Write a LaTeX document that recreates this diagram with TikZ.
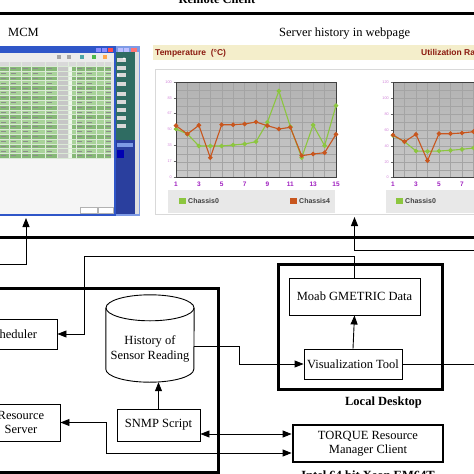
\documentclass[tikz,border=0pt]{standalone}
\usepackage{fontspec}
\setmainfont{Liberation Serif}
\newfontfamily\chartfont{Liberation Sans}
\usetikzlibrary{arrows.meta,calc}
\newcommand\mainsz{\fontsize{12.5}{14.5}\selectfont}
\definecolor{winblue}{HTML}{2F56C8}
\definecolor{winlight}{HTML}{7E9BE6}
\definecolor{rowA}{HTML}{86B877}
\definecolor{rowB}{HTML}{A9D39A}
\definecolor{stripteal}{HTML}{2F6C62}
\definecolor{stripblue}{HTML}{2A3F9E}
\definecolor{headband}{HTML}{F4EECB}
\definecolor{titlered}{HTML}{8B1A10}
\definecolor{gridgray}{HTML}{A4A4A4}
\definecolor{axpurple}{HTML}{A020C0}
\definecolor{axlight}{HTML}{D080D8}
\definecolor{chgreen}{HTML}{8CC63F}
\definecolor{chorange}{HTML}{C8561E}
\definecolor{legendgray}{HTML}{E8E8E8}
\begin{document}
\begin{tikzpicture}[x=1pt,y=-1pt,
  blockbox/.style={draw, line width=0.9pt, fill=white, align=center, inner sep=0pt, font=\mainsz},
  heavybox/.style={blockbox, line width=2.8pt},
  frameline/.style={line width=3pt},
  conn/.style={line width=0.9pt},
  arr/.style={conn, -{Triangle[length=9pt,width=7pt]}},
  arrb/.style={conn, {Triangle[length=9pt,width=7pt]}-{Triangle[length=9pt,width=7pt]}},
  lbl/.style={font=\mainsz, inner sep=0pt, align=center},
  boldlbl/.style={font=\mainsz\bfseries, inner sep=0pt},
  ytick/.style={font=\chartfont\fontsize{3.8}{4.5}\selectfont, text=axlight, anchor=east, inner sep=0pt},
  xtick/.style={font=\chartfont\bfseries\fontsize{6.5}{7.5}\selectfont, text=axpurple, inner sep=0pt},
  legtext/.style={font=\chartfont\bfseries\fontsize{7}{8}\selectfont, text=black!75, anchor=west, inner sep=0pt},
  charttitle/.style={font=\chartfont\bfseries\fontsize{8.5}{10}\selectfont, text=titlered, anchor=base west, inner sep=0pt},
  grid line/.style={gridgray, line width=0.3pt}
]
\useasboundingbox (0,0) rectangle (474,474);
\clip (0,0) rectangle (474,474);
\fill[white] (0,0) rectangle (474,474);

% ---------------- labels in remote client ----------------
\node[boldlbl, anchor=base] (remote) at (217,3) {Remote Client};
\node[lbl, anchor=base west] (mcmlbl) at (8,36) {MCM};
\node[lbl, anchor=base west] (weblbl) at (279,36) {Server history in webpage};

% ---------------- MCM screenshot ----------------
% right strip
\fill[winlight] (115,46) rectangle (140,216);
\fill[stripteal] (116,52) rectangle (135,140);
\fill[stripblue] (116,140) rectangle (135,214);
\fill[gray!25] (135,52) rectangle (139,214);
\foreach \yy in {58,66,73,82,92,100,108,116,124} \fill[gray!30] (117,\yy) rectangle (126,{\yy+4});
\fill[white] (118,75) circle (1.2pt);
\fill[white] (124,58.5) circle (1.2pt);
\fill[winlight] (117,143) rectangle (133,147);
\fill[blue!70!black] (117,150) rectangle (124,158);
\fill[blue!25] (118,47.5) rectangle (123,51.5);
\fill[blue!25] (124,47.5) rectangle (129,51.5);
\fill[red!55] (131,47.5) rectangle (137,51.5);
% main window
\fill[winblue] (0,46) rectangle (116,216);
\fill[gray!8] (0,53) rectangle (114,214);
\fill[blue!45] (96,47.5) rectangle (101,52);
\fill[blue!45] (102,47.5) rectangle (107,52);
\fill[red!70] (108,47.5) rectangle (113,52);
\fill[gray!15] (0,53) rectangle (114,62);
\foreach \xx/\cc in {57/gray, 67/gray, 80/teal, 92/green!60!black, 103/orange} \fill[\cc!70] (\xx,55) rectangle ++(3.5,4);
\fill[gray!30] (0,62) rectangle (111,66);
\foreach \i in {0,2,...,18} \fill[rowA] (0,{66+\i*4.85}) rectangle (111,{66+(\i+1)*4.85});
\foreach \i in {1,3,...,17} \fill[rowB] (0,{66+\i*4.85}) rectangle (111,{66+(\i+1)*4.85});
\fill[gray!45] (57.5,66) rectangle (67.5,158.2);
\fill[white!80!rowB] (68,66) rectangle (72,158.2);
\foreach \xx in {9,21,31,45,57,68,76,85,96,104} \draw[white!75!rowA, line width=0.3pt] (\xx,62) -- (\xx,158.2);
\foreach \i in {0,...,19} \draw[white!70!rowA, line width=0.2pt] (0,{66+\i*4.85}) -- (111,{66+\i*4.85});
\foreach \i in {0,...,18} {
  \foreach \xx in {1,11,23,33,47,77,87,106} \draw[black!45, line width=0.5pt] (\xx,{68.4+\i*4.85}) -- ++(5,0);
}
\fill[gray!20] (111,62) rectangle (114,158);
\draw[gray!60, fill=white] (80,207) rectangle (97,213);
\draw[gray!60, fill=white] (98,207) rectangle (113,213);

% ---------------- web charts ----------------
\fill[headband] (153,45) rectangle (480,60);
\node[charttitle] (temptitle) at (155,55) {Temperature~~(°C)};
\node[charttitle] (utiltitle) at (421,55) {Utilization Ra};
\draw[gray!30, fill=white, line width=0.8pt] (155,69) rectangle (480,214);

% chart 1
\shade[top color=gray!60, bottom color=gray!42] (176,82) rectangle (336,177);
\foreach \i in {0,...,14} \draw[grid line] ({176+\i*11.4286},82) -- ++(0,95);
\foreach \yy in {90,98,...,170} \draw[grid line] (176,\yy) -- (336,\yy);
\draw[black!75, line width=0.9pt] (176,82) rectangle (336,177);
\foreach \lab/\yy in {100/82, 83/98, 67/113, 50/129, 33/145, 17/161, 0/177} {
  \node[ytick] (ya\lab) at (172,\yy) {\lab};
  \draw[black!60, line width=0.4pt] (173.5,\yy) -- (176,\yy);
}
\foreach \n in {1,3,...,15} \node[xtick] (xa\n) at ({176+(\n-1)*11.4286},184) {\n};
\draw[chgreen, line width=1.1pt] plot[mark=*, mark size=1.7pt, mark options={fill=chgreen, draw=chgreen}] coordinates {(176,129) (187.4,134) (198.9,146) (210.3,146) (221.7,146) (233.1,145) (244.6,144) (256,141.7) (267.4,122.3) (278.9,91) (290.3,126.7) (301.7,157.7) (313.1,125) (324.6,145.7) (336,105.7)};
\draw[chorange, line width=1.1pt] plot[mark=*, mark size=1.7pt, mark options={fill=chorange, draw=chorange}] coordinates {(176,125.7) (187.4,134) (198.9,125.3) (210.3,157.7) (221.7,124.7) (233.1,124.7) (244.6,124) (256,122) (267.4,125.7) (278.9,129) (290.3,127.3) (301.7,155.7) (313.1,154) (324.6,152.7) (336,134.3)};
\fill[legendgray] (168,190) rectangle (335,213);
\fill[chgreen] (179,197.5) rectangle (186,204);
\node[legtext] (leg1a) at (188,201) {Chassis0};
\fill[chorange] (290,197.5) rectangle (297,204);
\node[legtext] (leg1b) at (299,201) {Chassis4};

% chart 2
\shade[top color=gray!60, bottom color=gray!42] (393,82) rectangle (490,177);
\foreach \i in {0,...,8} \draw[grid line] ({393+\i*11.5},82) -- ++(0,95);
\foreach \yy in {90,98,...,170} \draw[grid line] (393,\yy) -- (490,\yy);
\draw[black!75, line width=0.9pt] (490,82) -- (393,82) -- (393,177) -- (490,177);
\foreach \lab/\yy in {120/82, 100/98, 80/114, 60/130, 40/146, 20/162, 0/177} {
  \node[ytick] (yb\lab) at (389,\yy) {\lab};
  \draw[black!60, line width=0.4pt] (390.5,\yy) -- (393,\yy);
}
\foreach \n in {1,3,5,7} \node[xtick] (xb\n) at ({393+(\n-1)*11.5},184) {\n};
\draw[chgreen, line width=1.1pt] plot[mark=*, mark size=1.7pt, mark options={fill=chgreen, draw=chgreen}] coordinates {(393,135.5) (404.5,141.7) (416,151) (427.5,151.3) (439,151) (450.5,150.3) (462,149.3) (473.5,148) (485,140)};
\draw[chorange, line width=1.1pt] plot[mark=*, mark size=1.7pt, mark options={fill=chorange, draw=chorange}] coordinates {(393,135) (404.5,141.7) (416,134.3) (427.5,160.7) (439,133.7) (450.5,133.7) (462,133) (473.5,131.7) (485,131)};
\fill[legendgray] (386,190) rectangle (480,213);
\fill[chgreen] (396,197.5) rectangle (403,204);
\node[legtext] (leg2a) at (405,201) {Chassis0};

% ---------------- frames ----------------
\draw[frameline] (-10,13) rectangle (484,237);
\draw[frameline] (-10,288) rectangle (218,472);
\draw[frameline] (278,264) rectangle (442,389);
\node[boldlbl, anchor=base] (desklbl) at (383.5,405) {Local Desktop};
\node[boldlbl, anchor=north] (intel) at (368,471) {Intel 64 bit Xeon EM64T};

% ---------------- blocks ----------------
\node[blockbox, minimum width=90pt, minimum height=30pt] (sched) at (12,334) {Scheduler};
\node[blockbox, minimum width=78pt, minimum height=37pt] (res) at (21,422.5) {Resource\\Server};
\node[blockbox, minimum width=83pt, minimum height=32pt] (snmp) at (158.5,425) {SNMP Script};
\node[heavybox, minimum width=150pt, minimum height=37pt] (torque) at (368,443.5) {TORQUE Resource\\Manager Client};
\node[blockbox, minimum width=131pt, minimum height=37pt] (moab) at (354.5,296.5) {Moab GMETRIC Data};
\node[blockbox, minimum width=98pt, minimum height=30pt] (vis) at (353,364) {Visualization Tool};

% cylinder
\node[minimum width=88pt, minimum height=87pt, inner sep=0pt] (hist) at (150,338.5) {};
\filldraw[fill=white, line width=0.9pt] ($(hist.north west)+(0,13)$) -- ($(hist.south west)+(0,-13)$)
  arc[start angle=180, end angle=360, x radius=44pt, y radius=13pt] -- ($(hist.north east)+(0,13)$);
\draw[line width=0.9pt] ($(hist.north)+(0,13)$) ellipse [x radius=44pt, y radius=13pt];
\node[lbl] (histlbl) at (150,349) {History of\\Sensor Reading};

% ---------------- connectors ----------------
\coordinate (mcmtip) at (26,218);
\coordinate (leftout) at (-6,264);
\coordinate (webtip) at (354.5,217);
\coordinate (rightout) at (480,250);
\coordinate (visout) at (480,364);
\draw[arr] (leftout) -| (mcmtip);
\draw[arr] (rightout) -| (webtip);
\draw[conn] (vis.east) -- (visout);
\draw[arr] (moab.north) -- ++(0,-21) -| ($(sched.east)+(27,0)$) -- (sched.east);
\draw[arr] (vis.north) -- (moab.south);
\draw[arr] ($(hist.east)+(0,7.5)$) -| ($(vis.west)+(-64,0)$) -- (vis.west);
\draw[arr] (snmp.north) -- (snmp.north |- hist.south);
\coordinate (snmpR) at ($(snmp.east)+(0,9)$);
\draw[arrb] (snmpR) -- (snmpR -| torque.west);
\coordinate (torqL) at ($(torque.west)+(0,9.5)$);
\draw[arrb] (res.east) -- ($(res.east)+(46,0)$) |- (torqL);
\end{tikzpicture}
\end{document}
